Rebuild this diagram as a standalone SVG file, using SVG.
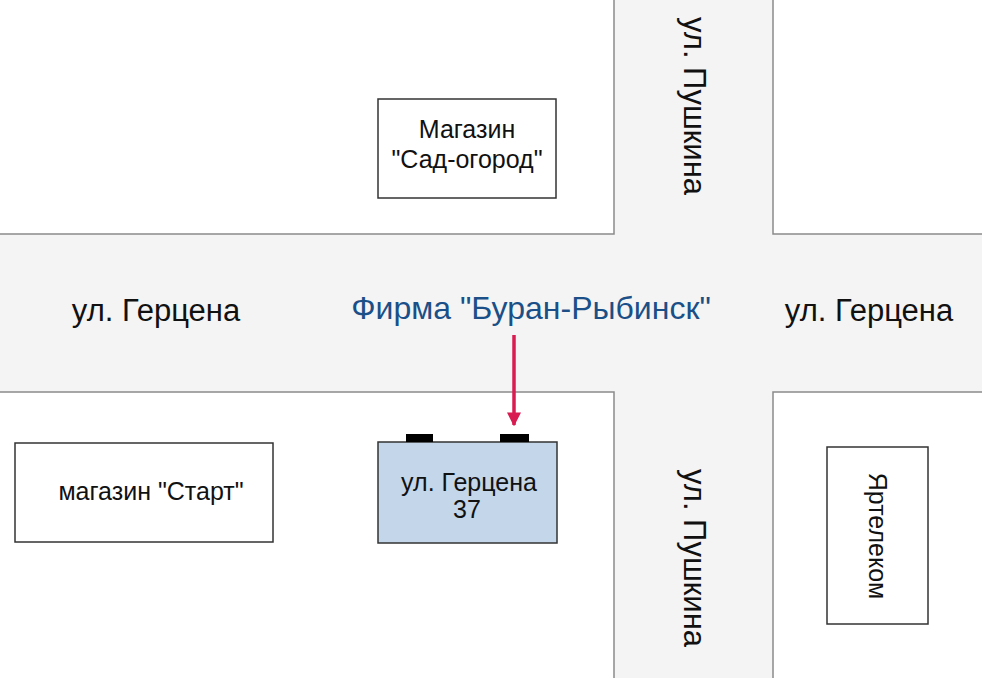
<svg xmlns="http://www.w3.org/2000/svg" width="982" height="678" viewBox="0 0 982 678">
<style>
.blk{fill:#fff;stroke:#8a8a8a;stroke-width:1.5}
.box{fill:#fff;stroke:#333;stroke-width:1.5}
.t{font-family:"Liberation Sans",Arial,sans-serif;fill:#111}
</style>
<defs><marker id="ah" viewBox="0 0 10 10" refX="9" refY="5" markerWidth="4" markerHeight="4" orient="auto"><path d="M0,0L10,5L0,10z" fill="#d81b50"/></marker></defs>
<rect width="982" height="678" fill="#f4f4f4"/>
<rect class="blk" x="-2" y="-2" width="616" height="236"/>
<rect class="blk" x="773" y="-2" width="212" height="236"/>
<rect class="blk" x="-2" y="392" width="616" height="290"/>
<rect class="blk" x="773" y="392" width="212" height="290"/>
<g class="t" font-size="31">
<text x="156" y="321" text-anchor="middle">ул. Герцена</text>
<text x="869" y="321" text-anchor="middle">ул. Герцена</text>
<text transform="translate(684,106) rotate(90)" text-anchor="middle">ул. Пушкина</text>
<text transform="translate(684,558) rotate(90)" text-anchor="middle">ул. Пушкина</text>
</g>
<g id="sad"><rect class="box" x="378" y="99" width="178" height="99"/>
<text class="t" font-size="25" x="467" y="138" text-anchor="middle">Магазин</text>
<text class="t" font-size="25" x="467" y="168" text-anchor="middle">"Сад-огород"</text></g>
<g id="start"><rect class="box" x="15" y="443" width="258" height="99"/>
<text class="t" font-size="25" x="151" y="500" text-anchor="middle">магазин "Старт"</text></g>
<g id="yartelecom"><rect class="box" x="827" y="447" width="101" height="177"/>
<text class="t" font-size="25" transform="translate(869,536) rotate(90)" text-anchor="middle">Яртелеком</text></g>
<g id="firm"><rect x="378" y="442" width="179" height="101" fill="#c3d6ea" stroke="#333" stroke-width="1.5"/>
<rect x="406" y="434" width="27" height="8" fill="#000"/>
<rect x="500" y="434" width="29" height="8" fill="#000"/>
<text class="t" font-size="25" x="469" y="491" text-anchor="middle">ул. Герцена</text>
<text class="t" font-size="25" x="467" y="518" text-anchor="middle">37</text></g>
<text font-family="Liberation Sans,Arial,sans-serif" font-size="32" fill="#1a4f87" x="531" y="319" text-anchor="middle">Фирма "Буран-Рыбинск"</text>
<g id="connectors"><line x1="514" y1="335" x2="514" y2="425" stroke="#d81b50" stroke-width="3.5" marker-end="url(#ah)"/></g>
</svg>
